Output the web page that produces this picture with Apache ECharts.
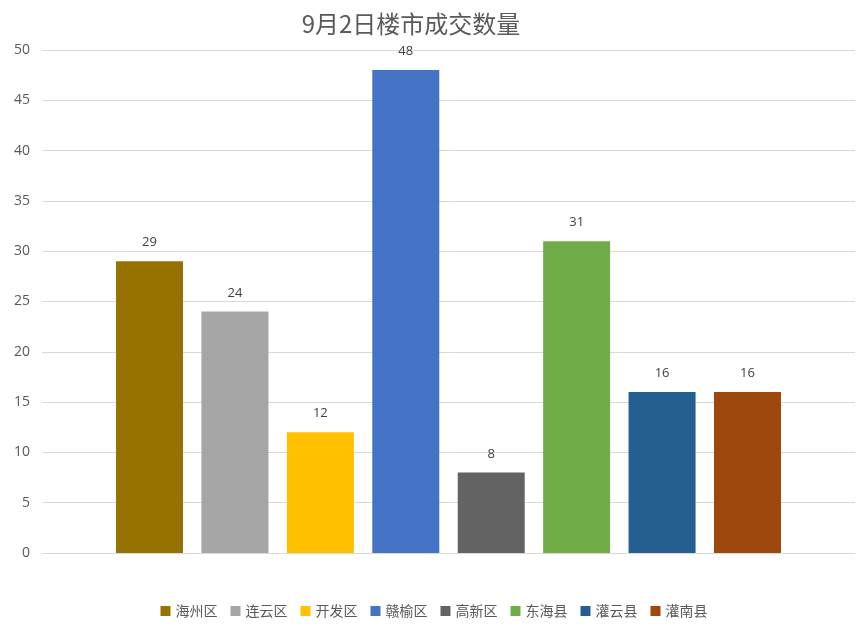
<!DOCTYPE html>
<html>
<head>
<meta charset="utf-8">
<script src="https://cdn.jsdelivr.net/npm/echarts@6/dist/echarts.min.js"></script>
<style>
  html, body { margin: 0; padding: 0; background: #fff; }
  #chart { width: 868px; height: 644px; }
</style>
</head>
<body>
<div id="chart"></div>
<script>
const districts = ['海州区', '连云区', '开发区', '赣榆区', '高新区', '东海县', '灌云县', '灌南县']
const deals = [29, 24, 12, 48, 8, 31, 16, 16]
const colors = ['#967300', '#A5A5A5', '#FFC000', '#4472C4', '#636363', '#70AD47', '#255E91', '#9E480E']
const yTicks = { min: 0, max: 50, interval: 5 }

const chart = echarts.init(document.getElementById('chart'))

const series = districts.map((name, i) => ({
  name: name,
  type: 'bar',
  data: [deals[i]],
  barWidth: 67,
  barGap: '27.5%',
  itemStyle: { color: colors[i] },
  label: {
    show: true,
    position: 'top',
    distance: 12,
    color: '#404040',
    fontSize: 13,
    fontFamily: 'Open Sans'
  }
}))

chart.setOption({
  animation: false,
  textStyle: { fontFamily: 'Noto Sans CJK SC' },
  title: {
    text: '9月2日楼市成交数量',
    left: 406,
    textAlign: 'center',
    top: 7,
    textStyle: {
      color: '#595959',
      fontSize: 24,
      fontWeight: 'normal',
      fontFamily: 'Noto Sans CJK SC'
    }
  },
  legend: {
    data: districts,
    bottom: 21,
    left: 'center',
    itemWidth: 10,
    itemHeight: 10,
    itemGap: 13,
    icon: 'rect',
    textStyle: { color: '#595959', fontSize: 14 }
  },
  grid: {
    left: 42,
    right: 13,
    top: 50,
    bottom: 91,
    containLabel: false
  },
  xAxis: {
    type: 'category',
    data: ['9月2日'],
    axisLine: { lineStyle: { color: '#d9d9d9' } },
    axisTick: { show: false },
    axisLabel: { show: false }
  },
  yAxis: {
    type: 'value',
    min: yTicks.min,
    max: yTicks.max,
    interval: yTicks.interval,
    axisLine: { show: false },
    axisTick: { show: false },
    axisLabel: {
      color: '#595959',
      fontSize: 14,
      margin: 12,
      fontFamily: 'Open Sans'
    },
    splitLine: { lineStyle: { color: '#d9d9d9' } }
  },
  series: series
})
</script>
</body>
</html>
